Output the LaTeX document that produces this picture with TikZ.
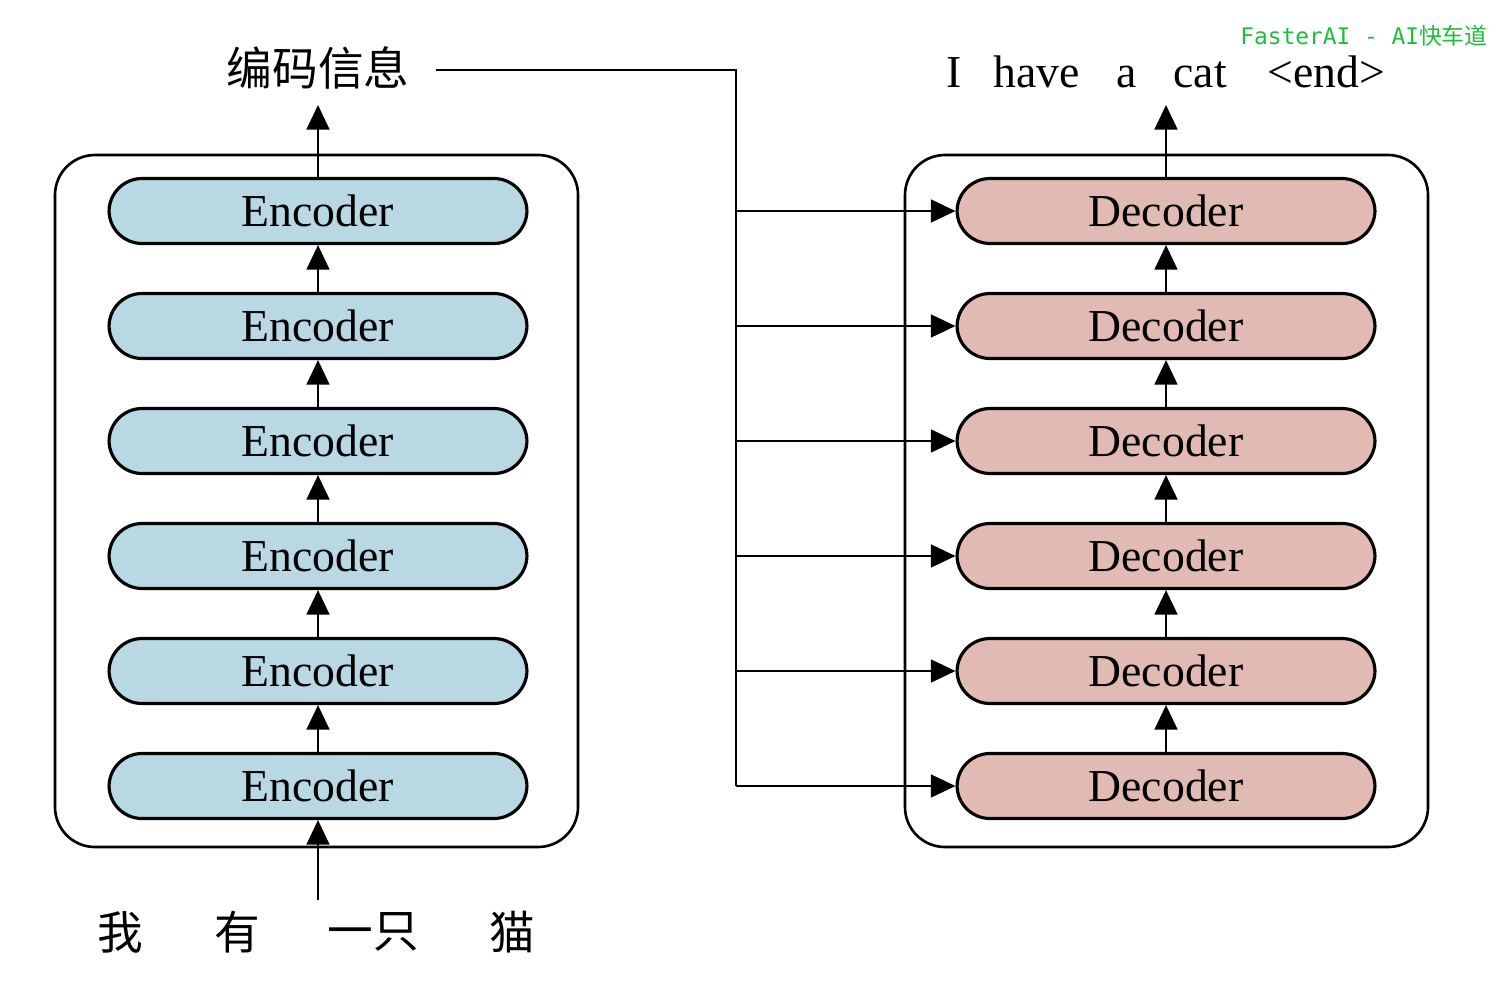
\documentclass[tikz,border=0pt]{standalone}
\usepackage{fontspec}
\setmainfont{Liberation Serif}
\newfontfamily\cjk{Noto Sans CJK SC}
\newfontfamily\wm{DejaVu Sans Mono}
\usetikzlibrary{arrows.meta}
\definecolor{encfill}{RGB}{184,216,228}
\definecolor{decfill}{RGB}{226,186,180}
\definecolor{wmgreen}{RGB}{30,190,60}
\begin{document}
\begin{tikzpicture}[x=0.02cm,y=-0.02cm,
  blk/.style={draw,line width=1.8pt,rounded corners=0.66cm,minimum width=8.36cm,minimum height=1.3cm,font=\fontsize{26}{28}\selectfont,inner sep=0pt},
  enc/.style={blk,fill=encfill},
  dec/.style={blk,fill=decfill},
  outer/.style={draw,line width=1.5pt,rounded corners=0.8cm},
  arr/.style={line width=1.3pt,-{Triangle[length=14pt,width=13pt]}},
  ln/.style={line width=1.3pt},
  cn/.style={font=\cjk\fontsize{26}{28}\selectfont}]
\useasboundingbox (0,0) rectangle (1500,984);
\draw[outer] (55,155) rectangle (578,847);
\draw[outer] (905,155) rectangle (1428,847);
\foreach \i/\y in {1/211,2/326,3/441,4/556,5/671,6/786}{
  \node[enc] (e\i) at (318,\y) {Encoder};
  \node[dec] (d\i) at (1166,\y) {Decoder};
}
\foreach \a/\b in {6/5,5/4,4/3,3/2,2/1}{
  \draw[arr] (e\a.north) -- (e\b.south);
  \draw[arr] (d\a.north) -- (d\b.south);
}
\node[cn] (code) at (318,68) {编码信息};
\node[font=\fontsize{26}{28}\selectfont] (out) at (1166,72) {I\hspace{0.7em}have\hspace{0.8em}a\hspace{0.8em}cat\hspace{0.9em}<end>};
\coordinate (ctop) at (318,105);
\coordinate (dtop) at (1166,105);
\draw[arr] (e1.north) -- (ctop);
\draw[arr] (d1.north) -- (dtop);
\coordinate (in) at (318,900);
\draw[arr] (in) -- (e6.south);
\coordinate (bus0) at (436,70);
\coordinate (bus1) at (736,70);
\coordinate (bus2) at (736,786);
\draw[ln] (bus0) -- (bus1) -- (bus2);
\foreach \i/\y in {1/211,2/326,3/441,4/556,5/671,6/786}{
  \coordinate (b\i) at (736,\y);
  \draw[arr] (b\i) -- (d\i.west);
}
\node[cn] (w1) at (120,932) {我};
\node[cn] (w2) at (237,932) {有};
\node[cn] (w3) at (373,932) {一只};
\node[cn] (w4) at (512,932) {猫};
\node[text=wmgreen,font=\wm\fontsize{13}{15}\selectfont] (wm) at (1364,36) {FasterAI - AI{\cjk 快车道}};
\end{tikzpicture}
\end{document}
